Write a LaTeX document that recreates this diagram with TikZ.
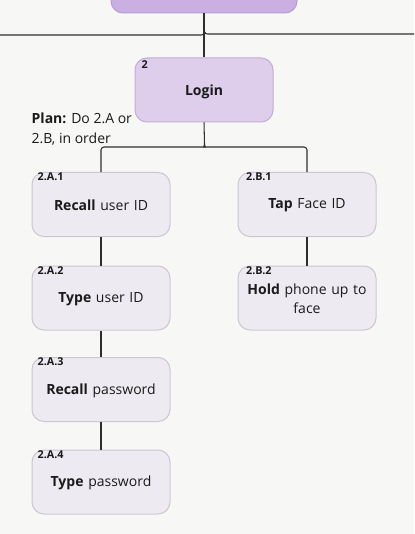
\documentclass[tikz,border=0pt]{standalone}
\usepackage{fontspec}
\setmainfont{Open Sans}
\usetikzlibrary{calc}
\definecolor{bg}{HTML}{F7F7F5}
\definecolor{topfill}{HTML}{CAB0E2}
\definecolor{topdraw}{HTML}{B79AD3}
\definecolor{loginfill}{HTML}{DECEEB}
\definecolor{logindraw}{HTML}{C3ACD6}
\definecolor{taskfill}{HTML}{EEEAF1}
\definecolor{taskdraw}{HTML}{CDC6D2}
\definecolor{linec}{HTML}{2E2E2E}
\definecolor{txt}{HTML}{1A1A1A}
\tikzset{
  taskbox/.style={draw=taskdraw, fill=taskfill, line width=1pt, rounded corners=12, minimum width=138, minimum height=64, inner sep=0pt},
  tasktext/.style={inner sep=0pt, text=txt, font=\fontsize{14}{19}\selectfont, align=center, text width=134},
  numlabel/.style={anchor=north west, inner sep=0pt, text=txt, font=\fontsize{10.8}{12}\selectfont\bfseries},
  conn/.style={draw=linec, line width=1.05pt},
}
\begin{document}
\begin{tikzpicture}[x=1pt,y=-1pt]
\fill[bg] (0,0) rectangle (414,534);
\useasboundingbox (0,0) rectangle (414,534);
\clip (0,0) rectangle (414,534);
% top (parent) box
\node[draw=topdraw, fill=topfill, line width=1pt, rounded corners=12, minimum width=186, minimum height=56, inner sep=0pt] (top) at (204,-15) {};
% login
\node[taskbox, draw=logindraw, fill=loginfill] (login) at (204,90) {};
\node[tasktext] (logint) at ($(login)+(0,1.5)$) {\textbf{Login}};
\node[numlabel] (loginnum) at (141.5,60) {2};
% A column
\node[taskbox] (a1) at (101,204.5) {};
\node[taskbox] (a2) at (101,298) {};
\node[taskbox] (a3) at (101,389.5) {};
\node[taskbox] (a4) at (101,482) {};
\node[tasktext] (a1t) at ($(a1)+(0,1)$) {\textbf{Recall} user ID};
\node[tasktext] (a2t) at ($(a2)+(0,1)$) {\textbf{Type} user ID};
\node[tasktext] (a3t) at ($(a3)+(0,1)$) {\textbf{Recall} password};
\node[tasktext] (a4t) at ($(a4)+(0,1)$) {\textbf{Type} password};
% B column
\node[taskbox] (b1) at (307,204.5) {};
\node[taskbox] (b2) at (307,298) {};
\node[tasktext] (b1t) at ($(b1)+(0,1)$) {\textbf{Tap} Face ID};
\node[tasktext] (b2t) at ($(b2)+(0,0.5)$) {\textbf{Hold} phone up to\\face};
% number labels
\node[numlabel] (a1n) at (37.5,172.8) {2.A.1};
\node[numlabel] (a2n) at (37.5,266.3) {2.A.2};
\node[numlabel] (a3n) at (37.5,357.8) {2.A.3};
\node[numlabel] (a4n) at (37.5,450.3) {2.A.4};
\node[numlabel] (b1n) at (246,172.8) {2.B.1};
\node[numlabel] (b2n) at (246,266.3) {2.B.2};
% plan
\node[anchor=north west, inner sep=0pt, align=left, text=txt, font=\fontsize{14}{20}\selectfont] (plan) at (31.5,112.5) {\textbf{Plan:} Do 2.A or\\2.B, in order};
% top connectors
\coordinate (tj) at (204.5,31.5);
\coordinate (lft) at (0,35);
\coordinate (rgt) at (414,34);
\draw[conn] (top.south) -- (login.north);
\draw[conn] (lft) -- (201.5,35) .. controls (203,35) and (204,34) .. (tj);
\draw[conn] (rgt) -- (207.5,34) .. controls (206,34) and (205,33.5) .. (tj);
% branch connectors
\coordinate (bj) at (204.5,144);
\draw[conn] (login.south) -- (bj);
\draw[conn, rounded corners=3] (a1.north) |- (201.5,147) [sharp corners] .. controls (203,147) and (204.5,146) .. (bj);
\draw[conn, rounded corners=3] (b1.north) |- (207.5,147) [sharp corners] .. controls (206,147) and (204.5,146) .. (bj);
% sequence connectors
\draw[conn] (a1) -- (a2);
\draw[conn] (a2) -- (a3);
\draw[conn] (a3) -- (a4);
\draw[conn] (b1) -- (b2);
\end{tikzpicture}
\end{document}
